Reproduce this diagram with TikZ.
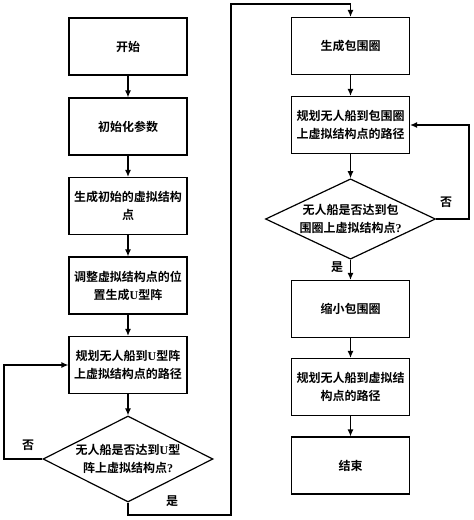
\documentclass[tikz,border=0pt]{standalone}
\usepackage{fontspec}
\setmainfont{Noto Sans CJK SC}[BoldFont=* Bold]
\newfontfamily\latinser{Liberation Serif}
\usetikzlibrary{shapes.geometric,arrows.meta}
\newcommand{\UU}{{\latinser\bfseries U}}
\newcommand{\QQ}{{\latinser\bfseries ?}}
\begin{document}
\begin{tikzpicture}[x=1pt,y=-1pt,
  every node/.style={font=\fontsize{12}{18}\selectfont\bfseries},
  boxnode/.style={draw,line width=1.2pt,minimum width=118pt,minimum height=57pt,inner sep=0pt,align=center},
  decnode/.style={draw,line width=1.2pt,diamond,aspect=2,inner sep=0pt,minimum width=170pt,align=center},
  conn/.style={line width=1.2pt,-{Latex[length=7pt,width=6pt]}},
  lbl/.style={inner sep=0pt}]
\useasboundingbox (0,0) rectangle (474,520);
\node[boxnode] (l1) at (128,46.5) {开始};
\node[boxnode] (l2) at (128,126.5) {初始化参数};
\node[boxnode] (l3) at (128,206) {生成初始的虚拟结构\\点};
\node[boxnode] (l4) at (128,285.5) {调整虚拟结构点的位\\置生成\UU 型阵};
\node[boxnode] (l5) at (128,365) {规划无人船到\UU 型阵\\上虚拟结构点的路径};
\node[decnode,minimum height=86pt] (ld) at (128,459) {无人船是否达到\UU 型\\阵上虚拟结构点\QQ};
\node[boxnode] (r1) at (350.5,46) {生成包围圈};
\node[boxnode] (r2) at (350.5,125) {规划无人船到包围圈\\上虚拟结构点的路径};
\node[decnode,minimum height=80pt] (rd) at (350.5,219) {无人船是否达到包\\围圈上虚拟结构点\QQ};
\node[boxnode] (r3) at (350.5,309) {缩小包围圈};
\node[boxnode] (r4) at (350.5,387) {规划无人船到虚拟结\\构点的路径};
\node[boxnode] (r5) at (350.5,465.5) {结束};
\coordinate (lb) at (128,515);
\coordinate (bc) at (231,515);
\coordinate (tc) at (231,4);
\coordinate (rt) at (350.5,4);
\coordinate (ll) at (4,459);
\coordinate (rr) at (469,219);
\draw[conn] (l1) -- (l2);
\draw[conn] (l2) -- (l3);
\draw[conn] (l3) -- (l4);
\draw[conn] (l4) -- (l5);
\draw[conn] (l5) -- (ld);
\draw[conn] (ld.west) -- (ll) |- (l5.west);
\draw[conn] (ld.south) -- (lb) -- (bc) -- (tc) -- (rt) -- (r1.north);
\draw[conn] (r1) -- (r2);
\draw[conn] (r2) -- (rd);
\draw[conn] (rd.east) -- (rr) |- (r2.east);
\draw[conn] (rd) -- (r3);
\draw[conn] (r3) -- (r4);
\draw[conn] (r4) -- (r5);
\node[lbl] (no1) at (28,445) {否};
\node[lbl] (yes1) at (172,501) {是};
\node[lbl] (no2) at (446,202) {否};
\node[lbl] (yes2) at (337,267) {是};
\end{tikzpicture}
\end{document}
